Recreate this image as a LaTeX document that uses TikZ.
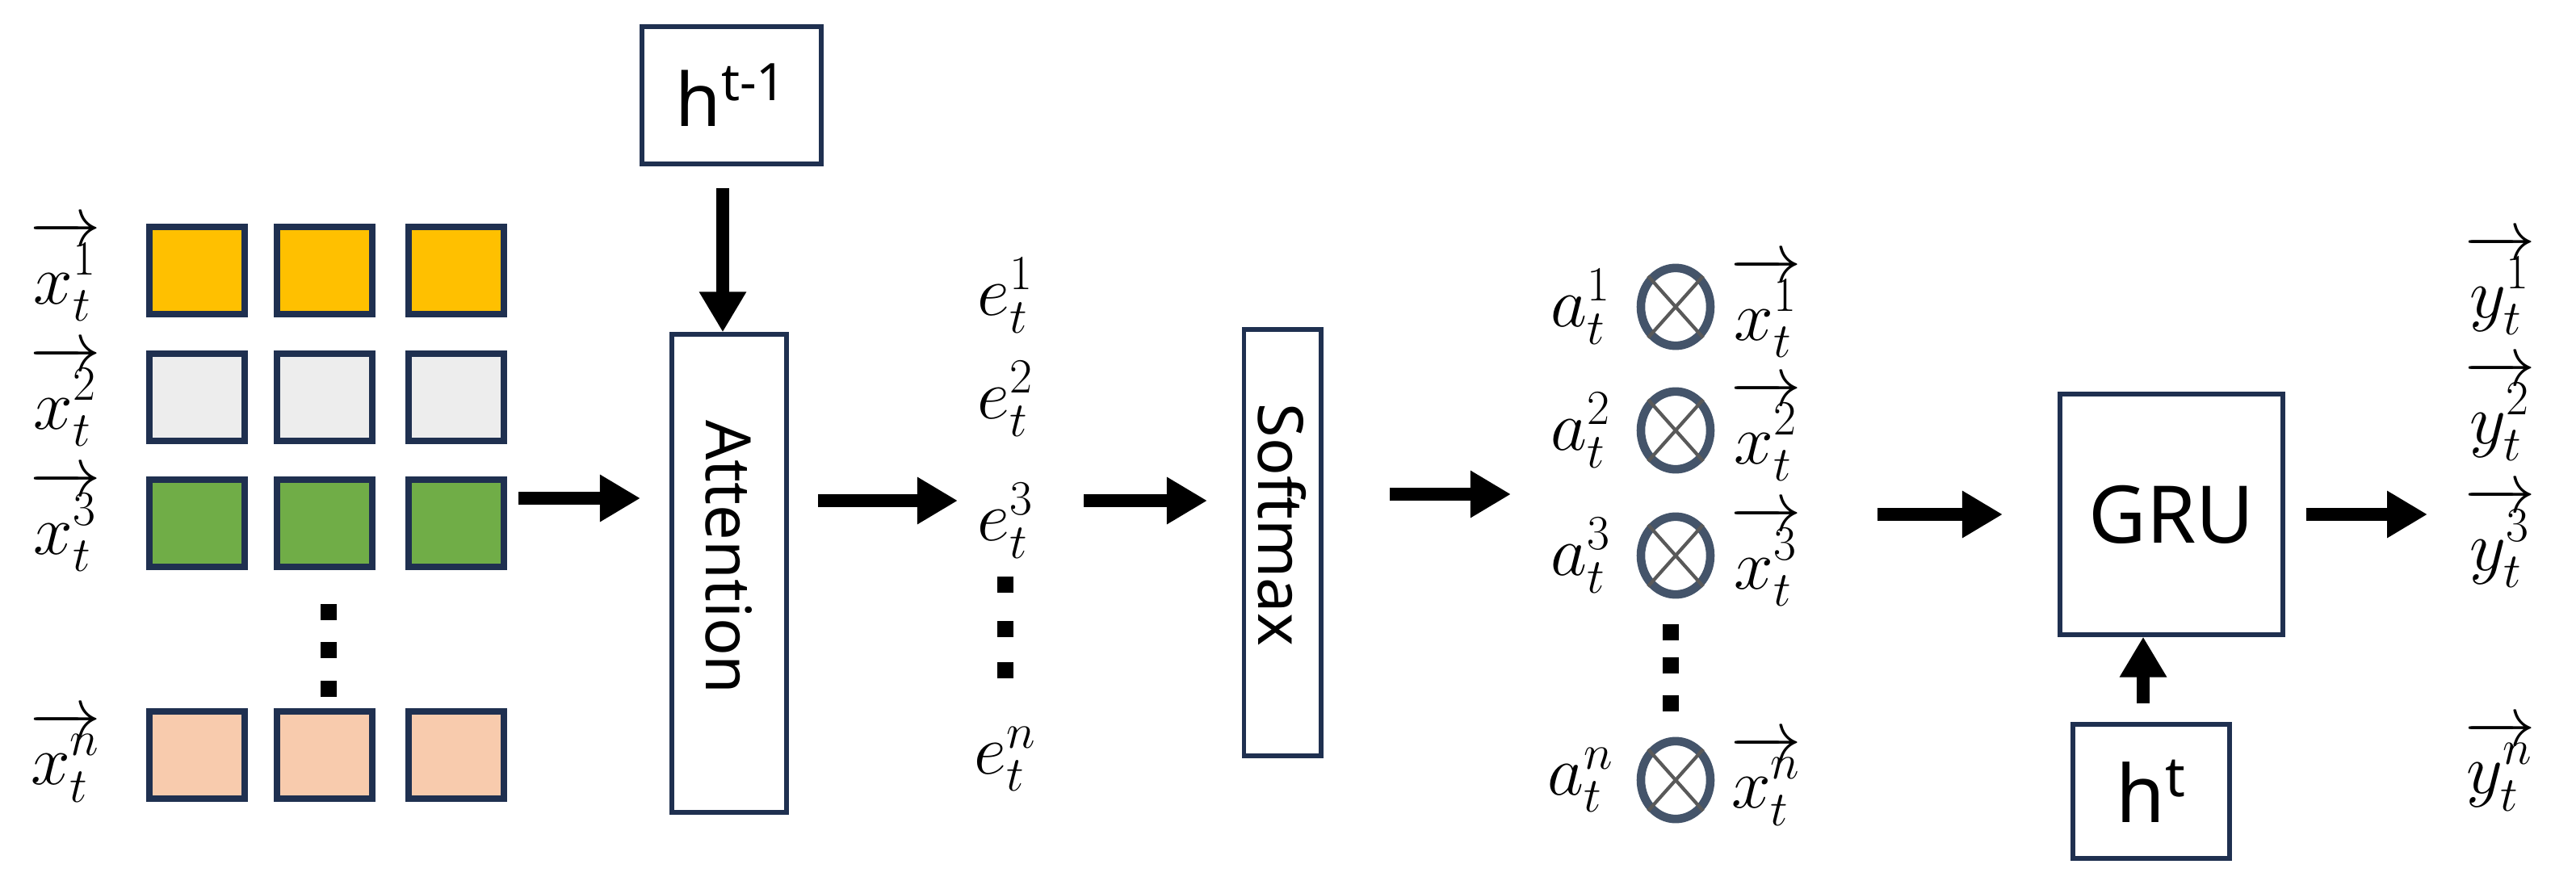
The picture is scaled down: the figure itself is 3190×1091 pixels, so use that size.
\documentclass[tikz,border=0pt]{standalone}
\usepackage{fontspec}
\setsansfont{Noto Sans}
\usetikzlibrary{arrows.meta}
\definecolor{navy}{HTML}{1F3050}
\definecolor{slate}{HTML}{44546A}
\definecolor{cy}{HTML}{FFC000}
\definecolor{cg}{HTML}{EDEDED}
\definecolor{cgr}{HTML}{70AD47}
\definecolor{cp}{HTML}{F8CBAD}
\begin{document}
\begin{tikzpicture}[x=0.01cm,y=-0.01cm,
  cell/.style={draw=navy,line width=2.3pt,minimum width=1.18cm,minimum height=1.08cm,inner sep=0},
  blk/.style={draw=navy,line width=1.7pt,inner sep=0,font=\sffamily},
  bigarrow/.style={line width=4.6pt,-{Triangle[length=0.5cm,width=0.55cm]}},
  lab/.style={font=\fontsize{24}{28}\selectfont,inner sep=0},
  otimes/.style={circle,draw=slate,line width=3pt,minimum width=0.86cm,minimum height=0.86cm,inner sep=0,yscale=1.12},
  dot/.style={fill=black,minimum size=0.2cm,inner sep=0}]
\useasboundingbox (0,0) rectangle (3190,1091);
% input cells
\foreach \r/\y/\c in {1/335/cy,2/492/cg,3/648/cgr,4/935/cp}{
  \foreach \k/\x in {1/244,2/402,3/565}{
    \node[cell,fill=\c] (c\r\k) at (\x,\y) {};
  }
}
\node[lab] (xl1) at (81,335) {$\overrightarrow{x_t^1}$};
\node[lab] (xl2) at (81,490) {$\overrightarrow{x_t^2}$};
\node[lab] (xl3) at (81,645) {$\overrightarrow{x_t^3}$};
\node[lab] (xl4) at (81,937) {$\overrightarrow{x_t^n}$};
\node[dot] (d1) at (407,758) {};
\node[dot] (d2) at (407,805) {};
\node[dot] (d3) at (407,853) {};
% h t-1
\node[blk,minimum width=2.22cm,minimum height=1.7cm] (hprev) at (906,118) {\fontsize{26}{30}\selectfont\bfseries h\textsuperscript{\mdseries t-1}};
\node[blk,minimum width=1.42cm,minimum height=5.91cm] (att) at (903,710) {};
\node[font=\sffamily\fontsize{22}{26}\selectfont,rotate=-90] (attl) at (903,690) {Attention};
\coordinate (a1) at (642,617);
\coordinate (a2) at (793,617);
\draw[bigarrow] (a1) -- (a2);
\coordinate (h1) at (895,233);
\draw[bigarrow] (h1) -- (att.north -| h1);
% e labels
\node[lab] (e1) at (1245,366) {$e_t^1$};
\node[lab] (e2) at (1245,494) {$e_t^2$};
\node[lab] (e3) at (1245,645) {$e_t^3$};
\node[lab] (e4) at (1245,940) {$e_t^n$};
\node[dot] (ed1) at (1245,724) {};
\node[dot] (ed2) at (1245,779) {};
\node[dot] (ed3) at (1245,830) {};
\coordinate (b1) at (1013,620);
\coordinate (b2) at (1186,620);
\draw[bigarrow] (b1) -- (b2);
\coordinate (c1) at (1342,620);
\coordinate (c2) at (1495,620);
\draw[bigarrow] (c1) -- (c2);
\node[blk,minimum width=0.95cm,minimum height=5.27cm] (soft) at (1588,672) {};
\node[font=\sffamily\fontsize{22}{26}\selectfont,rotate=-90] (softl) at (1588,650) {Softmax};
\coordinate (s1) at (1721,612);
\coordinate (s2) at (1871,612);
\draw[bigarrow] (s1) -- (s2);
% a, otimes, x
\foreach \i/\y/\s in {1/380/1,2/533/2,3/688/3,4/966/n}{
  \node[lab] (al\i) at (1958,\y) {$a_t^{\s}$};
  \node[otimes] (o\i) at (2075,\y) {};
  \draw[gray!70!black,line width=1.2pt] (o\i.north east) -- (o\i.south west) (o\i.north west) -- (o\i.south east);
  \node[lab] (xr\i) at (2187,\y) {$\overrightarrow{x_t^{\s}}$};
}
\node[dot] (ad1) at (2069,783) {};
\node[dot] (ad2) at (2069,824) {};
\node[dot] (ad3) at (2069,871) {};
% GRU
\node[blk,minimum width=2.76cm,minimum height=2.97cm] (gru) at (2689,637) {\fontsize{28}{32}\selectfont GRU};
\node[blk,minimum width=1.93cm,minimum height=1.65cm] (ht) at (2664,980) {\fontsize{28}{32}\selectfont\bfseries h\textsuperscript{\mdseries t}};
\coordinate (g1) at (2325,637);
\coordinate (g0) at (2480,637);
\draw[bigarrow] (g1) -- (g0);
\coordinate (g2) at (3006,637);
\coordinate (g3) at (2856,637);
\draw[bigarrow] (g3) -- (g2);
\coordinate (u1) at (2654,871);
\draw[bigarrow] (u1) -- (gru.south -| u1);
% y labels
\node[lab] (y1) at (3096,352) {$\overrightarrow{y_t^1}$};
\node[lab] (y2) at (3096,508) {$\overrightarrow{y_t^2}$};
\node[lab] (y3) at (3096,665) {$\overrightarrow{y_t^3}$};
\node[lab] (y4) at (3096,948) {$\overrightarrow{y_t^n}$};
\end{tikzpicture}
\end{document}
